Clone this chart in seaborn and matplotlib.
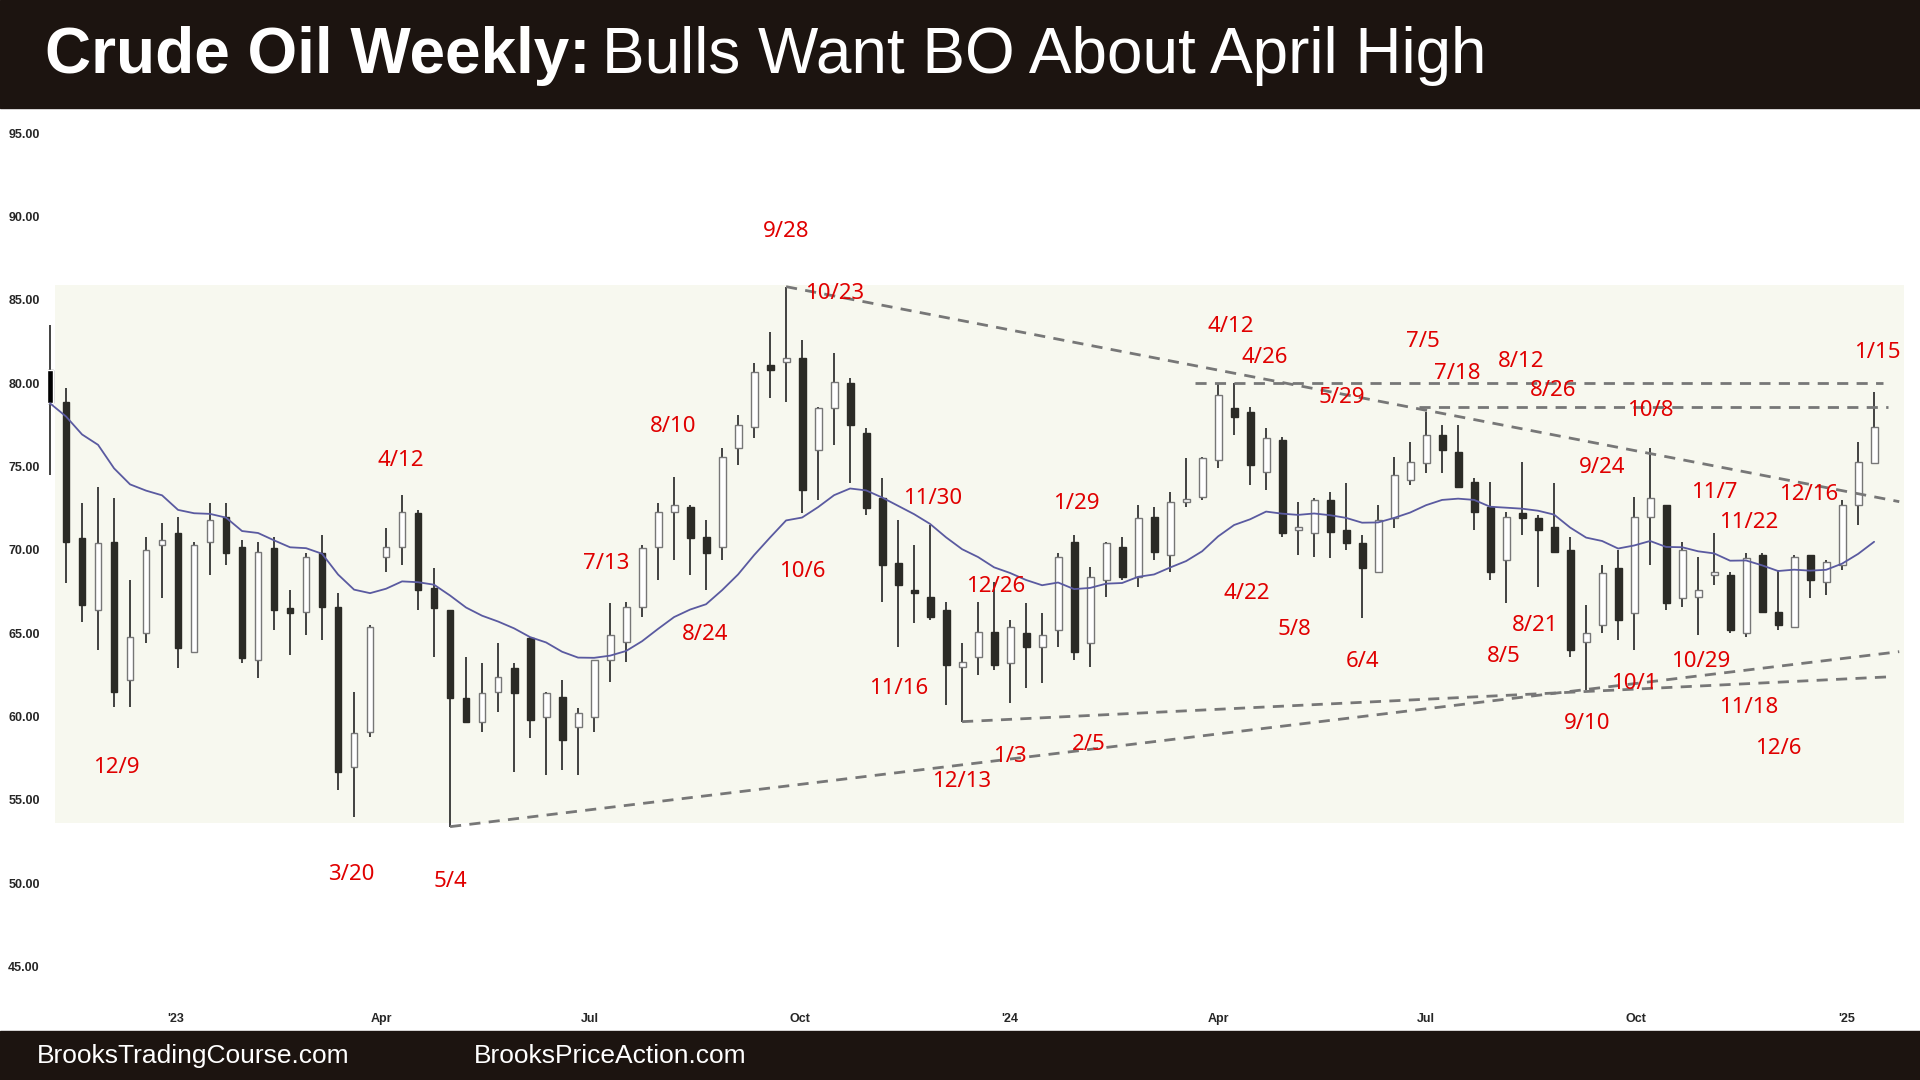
import numpy as np
import pandas as pd
import seaborn as sns
import matplotlib.pyplot as plt
import matplotlib.dates as mdates

# weekly WTI candles, first week starts 2022-11-07
start = pd.Timestamp("2022-11-07")
opens = [80.8, 78.9, 70.7, 66.4, 70.5, 62.2, 65.0, 70.3, 71.0, 63.9,
         70.5, 72.0, 70.2, 63.4, 70.1, 66.5, 66.3, 69.8, 66.6, 57.0,
         59.1, 69.6, 70.2, 72.2, 67.7, 66.4, 61.1, 59.7, 61.5, 62.9,
         64.7, 60.0, 61.2, 59.4, 60.0, 63.4, 64.5, 66.6, 70.2, 72.3,
         72.6, 70.8, 70.2, 76.1, 77.4, 81.1, 81.3, 81.5, 76.0, 78.5,
         80.0, 77.0, 73.1, 69.2, 67.6, 67.2, 66.4, 63.0, 63.6, 65.1,
         63.2, 65.0, 64.2, 65.2, 70.5, 64.4, 68.2, 70.2, 68.4, 72.0,
         69.7, 72.9, 73.2, 75.4, 78.5, 78.3, 74.7, 76.6, 71.2, 71.0,
         73.0, 71.2, 70.4, 68.7, 71.9, 74.2, 75.2, 76.9, 75.9, 74.1,
         72.6, 69.4, 72.2, 71.9, 71.4, 70.0, 64.5, 65.5, 68.9, 66.2,
         72.0, 72.7, 67.1, 67.2, 68.5, 68.5, 65.0, 69.7, 66.3, 65.4,
         69.7, 68.1, 69.1, 72.7, 75.2]
highs = [83.5, 79.7, 72.8, 73.8, 73.1, 68.2, 70.8, 71.6, 72.0, 70.5,
         72.8, 72.8, 70.6, 70.5, 70.8, 67.6, 69.8, 70.9, 67.4, 61.5,
         65.5, 71.3, 73.3, 72.4, 68.9, 66.4, 63.6, 63.2, 64.4, 63.2,
         64.8, 61.5, 62.2, 60.5, 63.4, 66.8, 66.9, 70.3, 72.8, 74.4,
         72.7, 71.8, 76.1, 78.1, 81.2, 83.1, 85.8, 82.6, 78.6, 81.8,
         80.3, 77.3, 74.3, 71.8, 70.3, 71.5, 66.9, 64.4, 66.9, 68.1,
         65.8, 66.8, 66.2, 69.8, 70.9, 69.0, 70.5, 70.8, 72.7, 72.6,
         73.5, 75.5, 75.6, 80.0, 80.0, 78.6, 77.3, 76.8, 72.9, 73.1,
         73.5, 74.0, 70.9, 72.7, 75.6, 76.5, 78.3, 77.5, 77.5, 74.3,
         74.1, 72.3, 75.3, 72.1, 74.0, 70.8, 66.7, 69.1, 70.0, 73.2,
         76.1, 72.7, 70.5, 69.6, 71.0, 68.7, 69.8, 69.8, 68.8, 69.7,
         69.7, 69.4, 73.0, 76.5, 79.5]
lows = [74.5, 68.0, 65.7, 64.0, 60.6, 60.6, 64.4, 67.1, 62.9, 63.8,
        68.5, 69.1, 63.2, 62.3, 65.2, 63.7, 64.9, 64.6, 55.6, 54.0,
        58.8, 68.7, 69.1, 66.4, 63.6, 53.4, 59.7, 59.1, 60.3, 56.7,
        58.7, 56.5, 56.8, 56.5, 59.1, 62.1, 63.3, 66.0, 68.2, 69.4,
        68.5, 67.6, 69.4, 75.1, 76.7, 79.1, 78.9, 72.2, 73.0, 76.3,
        74.0, 72.1, 66.9, 64.2, 65.6, 65.8, 60.7, 59.7, 62.5, 62.8,
        60.8, 61.7, 62.0, 64.2, 63.4, 63.0, 67.2, 68.2, 67.8, 69.4,
        68.7, 72.6, 73.0, 74.9, 76.9, 73.9, 73.6, 70.8, 69.7, 69.6,
        69.5, 70.0, 65.9, 68.7, 71.3, 73.9, 74.6, 74.6, 73.8, 71.2,
        68.2, 66.8, 70.9, 67.8, 69.8, 63.6, 61.6, 65.0, 64.6, 64.0,
        69.1, 66.4, 66.6, 64.9, 67.9, 65.0, 64.8, 66.2, 65.2, 65.4,
        67.1, 67.3, 68.8, 71.5, 75.2]
closes = [78.8, 70.5, 66.7, 70.4, 61.5, 64.8, 70.0, 70.6, 64.1, 70.3,
          71.8, 69.8, 63.5, 69.9, 66.4, 66.2, 69.6, 66.6, 56.7, 59.0,
          65.4, 70.2, 72.3, 67.6, 66.5, 61.1, 59.7, 61.4, 62.4, 61.4,
          59.8, 61.4, 58.6, 60.2, 63.4, 64.9, 66.6, 70.1, 72.3, 72.7,
          70.7, 69.8, 75.6, 77.5, 80.7, 80.8, 81.5, 73.6, 78.5, 80.1,
          77.5, 72.5, 69.1, 67.9, 67.4, 66.0, 63.1, 63.3, 65.1, 63.1,
          65.4, 64.2, 64.9, 69.6, 63.9, 68.4, 70.4, 68.4, 71.9, 69.9,
          72.9, 73.0, 75.5, 79.3, 78.0, 75.1, 76.7, 71.0, 71.4, 73.0,
          71.1, 70.4, 68.9, 71.8, 74.5, 75.3, 76.9, 76.0, 73.8, 72.3,
          68.7, 72.0, 71.9, 71.2, 69.9, 64.0, 65.0, 68.6, 65.8, 72.0,
          73.1, 66.8, 70.0, 67.6, 68.6, 65.2, 69.5, 66.3, 65.5, 69.6,
          68.2, 69.3, 72.7, 75.3, 77.4]

# trend lines: (day offset from start, price) pairs
trend_lines = [
    [(322, 85.8), (809, 72.9)],
    [(501, 80.0), (802, 80.0)],
    [(599, 78.6), (804, 78.6)],
    [(175, 53.4), (809, 63.9)],
    [(399, 59.7), (806, 62.4)],
]

# red date labels: (text, x px, y px) in the 1568x882 reference layout
labels = [("12/9", 95, 627), ("3/20", 287, 714), ("5/4", 368, 720), ("4/12", 327, 376),
          ("7/13", 495, 460), ("8/10", 550, 348), ("8/24", 576, 518), ("9/28", 642, 189),
          ("10/23", 682, 240), ("10/6", 655, 467), ("11/30", 762, 407), ("11/16", 734, 562),
          ("12/26", 813, 479), ("12/13", 785, 638), ("1/3", 825, 618), ("2/5", 889, 608),
          ("1/29", 879, 411), ("4/12", 1005, 267), ("4/26", 1033, 292), ("4/22", 1018, 485),
          ("5/29", 1096, 325), ("5/8", 1057, 514), ("6/4", 1113, 540), ("7/5", 1162, 279),
          ("7/18", 1190, 305), ("8/12", 1242, 295), ("8/26", 1268, 319), ("8/5", 1228, 536),
          ("8/21", 1254, 511), ("9/24", 1308, 382), ("9/10", 1296, 591), ("10/8", 1348, 335),
          ("10/1", 1335, 558), ("11/7", 1400, 402), ("11/22", 1428, 427), ("10/29", 1389, 540),
          ("11/18", 1428, 578), ("12/6", 1452, 611), ("12/16", 1477, 404), ("1/15", 1533, 288)]

sns.set_style("white")
plt.rcParams['font.family'] = ['Liberation Sans', 'DejaVu Sans']

dates = [start + pd.Timedelta(days=7 * i) for i in range(len(closes))]
df = pd.DataFrame({"date": dates, "open": opens, "high": highs, "low": lows, "close": closes})
df["x"] = mdates.date2num(df["date"])
df["ema"] = df["close"].ewm(span=20, adjust=False).mean()
x0 = mdates.date2num(start)

fig = plt.figure(figsize=(19.2, 10.8), dpi=100)
ax = fig.add_axes([48 / 1920, 75 / 1080, 1862 / 1920, 890 / 1080])
ax.set_facecolor("white")

# pale chart zone
ax.fill_between([x0 + 2.2, x0 + 811], 53.6, 85.9, color="#f7f8ef", zorder=0, lw=0)

# candles
ax.vlines(df["x"], df["low"], df["high"], color="#333333", lw=1.3, zorder=2)
up = df["close"] >= df["open"]
body = (df["close"] - df["open"]).abs().clip(lower=0.15)
bottom = df[["open", "close"]].min(axis=1)
ax.bar(df["x"][up], body[up], bottom=bottom[up], width=3.0, color="white",
       edgecolor="#777777", lw=1.0, zorder=3)
ax.bar(df["x"][~up], body[~up], bottom=bottom[~up], width=3.0, color="#2b2b26",
       edgecolor="#2b2b26", lw=1.0, zorder=3)
ax.bar(df["x"][:1], body[:1], bottom=bottom[:1], width=3.0, color="black", zorder=4)

sns.lineplot(x=df["x"], y=df["ema"], ax=ax, color="#5a5aa0", lw=1.3, zorder=4)

for pts in trend_lines:
    xs = [x0 + p[0] for p in pts]
    ys = [p[1] for p in pts]
    ax.plot(xs, ys, color="#777777", lw=2.0, ls=(0, (4, 3)), zorder=5)

ax.set_xlim(x0 - 0.9, x0 + 813.7)
ax.set_ylim(42.7, 96.1)
ax.set_yticks(np.arange(45, 96, 5))
ax.set_yticklabels([f"{v:.2f}" for v in np.arange(45, 96, 5)], fontsize=9, fontweight="bold")
tick_dates = pd.date_range("2023-01-01", "2025-01-01", freq="QS")
tick_names = []
for d in tick_dates:
    tick_names.append("'" + d.strftime("%y") if d.month == 1 else d.strftime("%b"))
ax.set_xticks(mdates.date2num(tick_dates))
ax.set_xticklabels(tick_names, fontsize=9, fontweight="bold")
ax.tick_params(length=0, pad=6)
ax.set_xlabel("")
ax.set_ylabel("")
for s in ax.spines.values():
    s.set_visible(False)

for txt, px, py in labels:
    fig.text(px / 1568, 1 - py / 882, txt, color="#e00000", fontsize=16,
             ha="center", va="center", family="Noto Sans")

# title and footer bars
fig.patches.append(plt.Rectangle((0, 1 - 108 / 1080), 1, 108 / 1080, transform=fig.transFigure,
                                 color="#1c1410", zorder=0))
fig.patches.append(plt.Rectangle((0, 0), 1, 49 / 1080, transform=fig.transFigure,
                                 color="#1c1410", zorder=0))
t1 = fig.text(45 / 1920, 1 - 56 / 1080, "Crude Oil Weekly:", color="white", fontsize=46,
              fontweight="bold", va="center")
fig.canvas.draw()
bb = t1.get_window_extent()
fig.text(bb.x1 / 1920 + 0.006, 1 - 56 / 1080, "Bulls Want BO About April High", color="white",
         fontsize=46, va="center")
fig.text(37 / 1920, 24 / 1080, "BrooksTradingCourse.com", color="white", fontsize=19, va="center")
fig.text(474 / 1920, 24 / 1080, "BrooksPriceAction.com", color="white", fontsize=19, va="center")

fig.savefig("out.png", dpi=100)
